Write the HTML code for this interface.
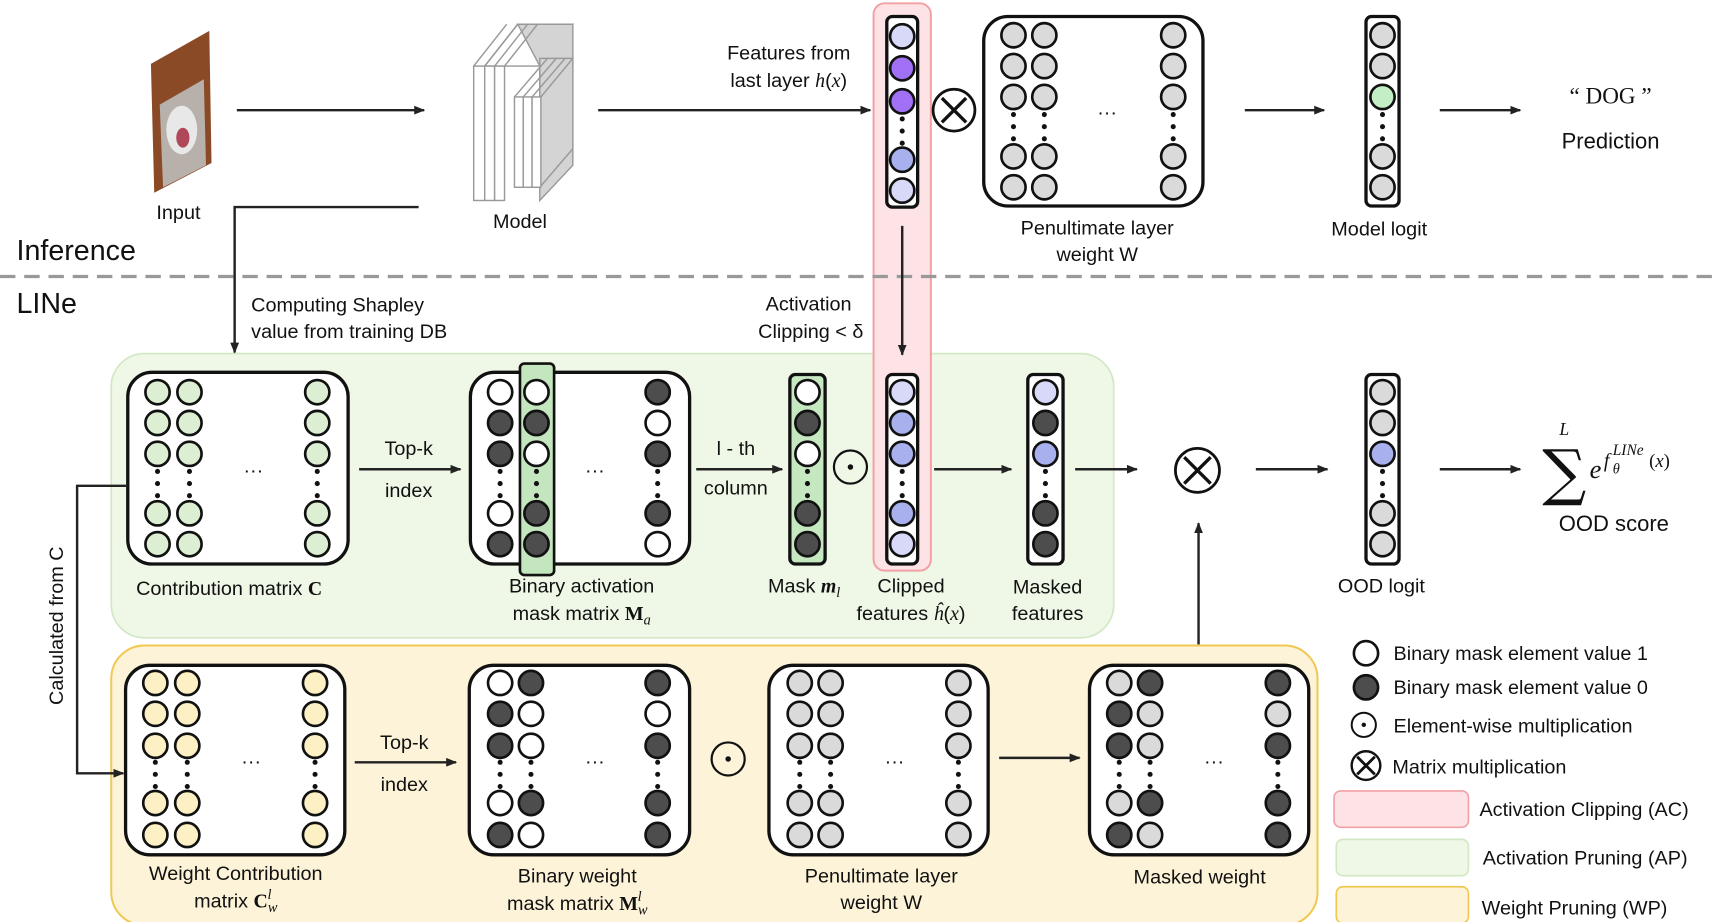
<!DOCTYPE html>
<html><head><meta charset="utf-8"><style>
html,body{margin:0;padding:0;background:#fff}
svg{display:block}
text{font-family:"Liberation Sans",sans-serif;font-size:18px;fill:#111;text-anchor:middle}
.c{stroke:#111;stroke-width:2.4}
.w{fill:#fff}.k{fill:#4d4d4d}.g{fill:#dadada}.lg{fill:#dcefd2}.y{fill:#fdf0c4}.lv{fill:#d8d8f8}.pb{fill:#a8b0ee}.pp{fill:#a070f5}.gr{fill:#c4eec4}
.d{fill:#111}
.box{fill:#fff;stroke:#111;stroke-width:3}
.ar{stroke:#222;stroke-width:2.2;fill:none}
</style></head><body>
<svg width="1713" height="922" viewBox="0 0 1555 837" preserveAspectRatio="none" xmlns="http://www.w3.org/2000/svg">
<defs>
<marker id="a" markerWidth="10" markerHeight="8" refX="9" refY="4" orient="auto" markerUnits="userSpaceOnUse"><path d="M0,0 L10,4 L0,8 z" fill="#222"/></marker>
</defs>

<!-- panels -->
<rect x="101" y="321" width="910" height="258" rx="30" fill="#eff7e6" stroke="#d2e8c4" stroke-width="1.5"/>
<rect x="101" y="586" width="1095" height="254" rx="30" fill="#fdf3d8" stroke="#f0c850" stroke-width="1.8"/>
<rect x="793" y="3" width="52" height="515" rx="10" fill="#fde3e5" stroke="#f2a0a6" stroke-width="1.8"/>

<!-- input image -->
<polygon points="137,58 190,28 192,148 140,175" fill="#8a4a25"/>
<polygon points="145,95 185,72 187,150 148,170" fill="#b8b0aa"/>
<ellipse cx="165" cy="118" rx="14" ry="22" fill="#e8e8e8"/>
<ellipse cx="166" cy="125" rx="6" ry="9" fill="#b0485a"/>
<text x="162" y="199">Input</text>

<line class="ar" x1="215" y1="100" x2="385" y2="100" marker-end="url(#a)"/>

<!-- model -->
<g stroke="#999" stroke-width="1.3" fill="#fff">
<polygon points="440,60 470,22 520,22 490,60" fill="#fff"/>
<polygon points="470,22 520,22 520,150 490,182 490,60" fill="#d4d4d4"/>
<rect x="430" y="60" width="10" height="122"/><rect x="440" y="60" width="9" height="122"/><rect x="449" y="60" width="9" height="122"/>
<line x1="430" y1="60" x2="460" y2="22"/><line x1="440" y1="60" x2="470" y2="22"/><line x1="449" y1="60" x2="479" y2="22"/><line x1="458" y1="60" x2="488" y2="22"/>
<polygon points="490,53 520,53 520,135 490,170" fill="#d4d4d4"/>
<rect x="467" y="88" width="8" height="82"/><rect x="475" y="88" width="8" height="82"/><rect x="483" y="88" width="8" height="82"/>
<line x1="467" y1="88" x2="497" y2="53"/><line x1="475" y1="88" x2="505" y2="53"/><line x1="483" y1="88" x2="513" y2="53"/><line x1="491" y1="88" x2="520" y2="53"/>
</g>
<text x="472" y="207">Model</text>

<path class="ar" d="M380,188 H213 V320" marker-end="url(#a)"/>
<line class="ar" x1="543" y1="100" x2="790" y2="100" marker-end="url(#a)"/>
<text x="716" y="54">Features from</text>
<text x="716" y="79">last layer <tspan font-family="Liberation Serif" font-style="italic">h</tspan>(<tspan font-family="Liberation Serif" font-style="italic">x</tspan>)</text>

<!-- top feature column -->
<rect class="box" x="805" y="15" width="28" height="173" rx="5"/>
<g class="c"><circle class="lv" cx="819" cy="33" r="11"/><circle class="pp" cx="819" cy="62" r="11"/><circle class="pp" cx="819" cy="92" r="11"/><circle class="pb" cx="819" cy="145" r="11"/><circle class="lv" cx="819" cy="173" r="11"/></g>
<g class="d"><circle cx="819" cy="108" r="2.3"/><circle cx="819" cy="119" r="2.3"/><circle cx="819" cy="130" r="2.3"/></g>

<!-- otimes top -->
<circle cx="866" cy="100" r="19" fill="#fff" stroke="#111" stroke-width="2.5"/>
<path d="M855,89 L877,111 M877,89 L855,111" stroke="#111" stroke-width="3"/>

<!-- top W -->
<rect class="box" x="893" y="15" width="199" height="172" rx="22"/>
<g class="c g">
<circle cx="920" cy="32" r="11"/><circle cx="920" cy="60" r="11"/><circle cx="920" cy="88" r="11"/><circle cx="920" cy="142" r="11"/><circle cx="920" cy="170" r="11"/>
<circle cx="948" cy="32" r="11"/><circle cx="948" cy="60" r="11"/><circle cx="948" cy="88" r="11"/><circle cx="948" cy="142" r="11"/><circle cx="948" cy="170" r="11"/>
<circle cx="1065" cy="32" r="11"/><circle cx="1065" cy="60" r="11"/><circle cx="1065" cy="88" r="11"/><circle cx="1065" cy="142" r="11"/><circle cx="1065" cy="170" r="11"/>
</g>
<g class="d"><circle cx="920" cy="104" r="2.3"/><circle cx="920" cy="115" r="2.3"/><circle cx="920" cy="126" r="2.3"/><circle cx="948" cy="104" r="2.3"/><circle cx="948" cy="115" r="2.3"/><circle cx="948" cy="126" r="2.3"/><circle cx="1065" cy="104" r="2.3"/><circle cx="1065" cy="115" r="2.3"/><circle cx="1065" cy="126" r="2.3"/></g>
<text x="1005" y="108">···</text>
<text x="996" y="213">Penultimate layer</text>
<text x="996" y="237">weight W</text>

<line class="ar" x1="1130" y1="100" x2="1202" y2="100" marker-end="url(#a)"/>
<rect class="box" x="1240" y="15" width="30" height="172" rx="5"/>
<g class="c"><circle class="g" cx="1255" cy="32" r="11"/><circle class="g" cx="1255" cy="60" r="11"/><circle class="gr" cx="1255" cy="88" r="11"/><circle class="g" cx="1255" cy="142" r="11"/><circle class="g" cx="1255" cy="170" r="11"/></g>
<g class="d"><circle cx="1255" cy="104" r="2.3"/><circle cx="1255" cy="115" r="2.3"/><circle cx="1255" cy="126" r="2.3"/></g>
<text x="1252" y="214">Model logit</text>
<line class="ar" x1="1307" y1="100" x2="1380" y2="100" marker-end="url(#a)"/>
<text x="1462" y="94" style="font-family:'Liberation Serif',serif;font-size:21px">“ DOG ”</text>
<text x="1462" y="135" style="font-size:20px">Prediction</text>

<text x="15" y="236" style="text-anchor:start;font-size:26px">Inference</text>
<line x1="0" y1="251" x2="1555" y2="251" stroke="#999" stroke-width="3" stroke-dasharray="14 8"/>
<text x="15" y="284" style="text-anchor:start;font-size:26px">LINe</text>
<text x="228" y="283" style="text-anchor:start">Computing Shapley</text>
<text x="228" y="307" style="text-anchor:start">value from training DB</text>
<text x="734" y="282">Activation</text>
<text x="736" y="307">Clipping &lt; δ</text>
<line class="ar" x1="819" y1="205" x2="819" y2="322" marker-end="url(#a)"/>

<!-- Contribution matrix -->
<rect class="box" x="116" y="338" width="200" height="174" rx="22"/>
<g class="c lg">
<circle cx="143" cy="356" r="11"/><circle cx="143" cy="384" r="11"/><circle cx="143" cy="412" r="11"/><circle cx="143" cy="466" r="11"/><circle cx="143" cy="494" r="11"/>
<circle cx="172" cy="356" r="11"/><circle cx="172" cy="384" r="11"/><circle cx="172" cy="412" r="11"/><circle cx="172" cy="466" r="11"/><circle cx="172" cy="494" r="11"/>
<circle cx="288" cy="356" r="11"/><circle cx="288" cy="384" r="11"/><circle cx="288" cy="412" r="11"/><circle cx="288" cy="466" r="11"/><circle cx="288" cy="494" r="11"/>
</g>
<g class="d"><circle cx="143" cy="428" r="2.3"/><circle cx="143" cy="439" r="2.3"/><circle cx="143" cy="450" r="2.3"/><circle cx="172" cy="428" r="2.3"/><circle cx="172" cy="439" r="2.3"/><circle cx="172" cy="450" r="2.3"/><circle cx="288" cy="428" r="2.3"/><circle cx="288" cy="439" r="2.3"/><circle cx="288" cy="450" r="2.3"/></g>
<text x="230" y="433">···</text>
<text x="208" y="540">Contribution matrix <tspan font-family="Liberation Serif" font-weight="bold">C</tspan></text>

<line class="ar" x1="326" y1="426" x2="418" y2="426" marker-end="url(#a)"/>
<text x="371" y="413">Top-k</text>
<text x="371" y="451">index</text>

<!-- Binary activation mask -->
<rect class="box" x="427" y="338" width="199" height="174" rx="22"/>
<rect x="472" y="330" width="31" height="192" rx="4" fill="#c4e6be"/>
<g class="c">
<circle class="w" cx="454" cy="356" r="11"/><circle class="k" cx="454" cy="384" r="11"/><circle class="k" cx="454" cy="412" r="11"/><circle class="w" cx="454" cy="466" r="11"/><circle class="k" cx="454" cy="494" r="11"/>
<circle class="w" cx="487" cy="356" r="11"/><circle class="k" cx="487" cy="384" r="11"/><circle class="w" cx="487" cy="412" r="11"/><circle class="k" cx="487" cy="466" r="11"/><circle class="k" cx="487" cy="494" r="11"/>
<circle class="k" cx="597" cy="356" r="11"/><circle class="w" cx="597" cy="384" r="11"/><circle class="k" cx="597" cy="412" r="11"/><circle class="k" cx="597" cy="466" r="11"/><circle class="w" cx="597" cy="494" r="11"/>
</g>
<rect x="472" y="330" width="31" height="192" rx="4" fill="none" stroke="#111" stroke-width="2.4"/>
<g class="d"><circle cx="454" cy="428" r="2.3"/><circle cx="454" cy="439" r="2.3"/><circle cx="454" cy="450" r="2.3"/><circle cx="487" cy="428" r="2.3"/><circle cx="487" cy="439" r="2.3"/><circle cx="487" cy="450" r="2.3"/><circle cx="597" cy="428" r="2.3"/><circle cx="597" cy="439" r="2.3"/><circle cx="597" cy="450" r="2.3"/></g>
<text x="540" y="433">···</text>
<text x="528" y="538">Binary activation</text>
<text x="528" y="563">mask matrix <tspan font-family="Liberation Serif" font-weight="bold">M</tspan><tspan font-family="Liberation Serif" font-style="italic" font-size="13" dy="4">a</tspan></text>

<line class="ar" x1="632" y1="426" x2="710" y2="426" marker-end="url(#a)"/>
<text x="668" y="413">l - th</text>
<text x="668" y="449">column</text>

<!-- Mask column -->
<rect x="717" y="340" width="32" height="172" rx="5" fill="#c6e8c0" stroke="#111" stroke-width="3"/>
<g class="c"><circle class="w" cx="733" cy="356" r="11"/><circle class="k" cx="733" cy="384" r="11"/><circle class="w" cx="733" cy="412" r="11"/><circle class="k" cx="733" cy="466" r="11"/><circle class="k" cx="733" cy="494" r="11"/></g>
<g class="d"><circle cx="733" cy="428" r="2.3"/><circle cx="733" cy="439" r="2.3"/><circle cx="733" cy="450" r="2.3"/></g>
<circle cx="772" cy="424" r="15" fill="none" stroke="#111" stroke-width="2"/><circle cx="772" cy="424" r="2.5" fill="#111"/>
<text x="730" y="538">Mask <tspan font-family="Liberation Serif" font-weight="bold" font-style="italic">m</tspan><tspan font-family="Liberation Serif" font-style="italic" font-size="13" dy="4">l</tspan></text>

<!-- Clipped -->
<rect class="box" x="805" y="340" width="28" height="172" rx="5"/>
<g class="c"><circle class="lv" cx="819" cy="356" r="11"/><circle class="pb" cx="819" cy="384" r="11"/><circle class="pb" cx="819" cy="412" r="11"/><circle class="pb" cx="819" cy="466" r="11"/><circle class="lv" cx="819" cy="494" r="11"/></g>
<g class="d"><circle cx="819" cy="428" r="2.3"/><circle cx="819" cy="439" r="2.3"/><circle cx="819" cy="450" r="2.3"/></g>
<text x="827" y="538">Clipped</text>
<text x="827" y="563">features <tspan font-family="Liberation Serif" font-style="italic">ĥ</tspan>(<tspan font-family="Liberation Serif" font-style="italic">x</tspan>)</text>

<line class="ar" x1="848" y1="426" x2="918" y2="426" marker-end="url(#a)"/>
<rect class="box" x="933" y="340" width="32" height="172" rx="5"/>
<g class="c"><circle class="lv" cx="949" cy="356" r="11"/><circle class="k" cx="949" cy="384" r="11"/><circle class="pb" cx="949" cy="412" r="11"/><circle class="k" cx="949" cy="466" r="11"/><circle class="k" cx="949" cy="494" r="11"/></g>
<g class="d"><circle cx="949" cy="428" r="2.3"/><circle cx="949" cy="439" r="2.3"/><circle cx="949" cy="450" r="2.3"/></g>
<text x="951" y="539">Masked</text>
<text x="951" y="563">features</text>

<line class="ar" x1="976" y1="426" x2="1032" y2="426" marker-end="url(#a)"/>
<circle cx="1087" cy="427" r="20" fill="#fff" stroke="#111" stroke-width="2.5"/>
<path d="M1075,415 L1099,439 M1099,415 L1075,439" stroke="#111" stroke-width="3"/>
<line class="ar" x1="1088" y1="585" x2="1088" y2="475" marker-end="url(#a)"/>
<line class="ar" x1="1140" y1="426" x2="1205" y2="426" marker-end="url(#a)"/>

<rect class="box" x="1240" y="340" width="30" height="172" rx="5"/>
<g class="c"><circle class="g" cx="1255" cy="356" r="11"/><circle class="g" cx="1255" cy="384" r="11"/><circle class="pb" cx="1255" cy="412" r="11"/><circle class="g" cx="1255" cy="466" r="11"/><circle class="g" cx="1255" cy="494" r="11"/></g>
<g class="d"><circle cx="1255" cy="428" r="2.3"/><circle cx="1255" cy="439" r="2.3"/><circle cx="1255" cy="450" r="2.3"/></g>
<text x="1254" y="538">OOD logit</text>
<line class="ar" x1="1307" y1="426" x2="1380" y2="426" marker-end="url(#a)"/>

<text x="1420" y="448" style="font-family:'DejaVu Serif',serif;font-size:56px">∑</text>
<text x="1420" y="395" style="font-family:'Liberation Serif',serif;font-style:italic;font-size:16px">L</text>
<text x="1443" y="434" style="text-anchor:start;font-family:'Liberation Serif',serif;font-style:italic;font-size:24px">e</text>
<text x="1456" y="424" style="text-anchor:start;font-family:'Liberation Serif',serif;font-style:italic;font-size:18px">f</text>
<text x="1464" y="430" style="text-anchor:start;font-family:'Liberation Serif',serif;font-style:italic;font-size:13px">θ</text>
<text x="1464" y="413" style="text-anchor:start;font-family:'Liberation Serif',serif;font-style:italic;font-size:14px">LINe</text>
<text x="1497" y="424" style="text-anchor:start;font-family:'Liberation Serif',serif;font-size:17px">(<tspan font-style="italic">x</tspan>)</text>
<text x="1465" y="482" style="font-size:20px">OOD score</text>

<!-- Calculated from C -->
<text x="0" y="0" transform="translate(57,568) rotate(-90)">Calculated from C</text>
<path class="ar" d="M116,441 H70 V702 H112" marker-end="url(#a)"/>

<!-- Weight contribution -->
<rect class="box" x="114" y="604" width="199" height="172" rx="22"/>
<g class="c y">
<circle cx="141" cy="620" r="11"/><circle cx="141" cy="648" r="11"/><circle cx="141" cy="677" r="11"/><circle cx="141" cy="729" r="11"/><circle cx="141" cy="758" r="11"/>
<circle cx="170" cy="620" r="11"/><circle cx="170" cy="648" r="11"/><circle cx="170" cy="677" r="11"/><circle cx="170" cy="729" r="11"/><circle cx="170" cy="758" r="11"/>
<circle cx="286" cy="620" r="11"/><circle cx="286" cy="648" r="11"/><circle cx="286" cy="677" r="11"/><circle cx="286" cy="729" r="11"/><circle cx="286" cy="758" r="11"/>
</g>
<g class="d"><circle cx="141" cy="692" r="2.3"/><circle cx="141" cy="703" r="2.3"/><circle cx="141" cy="714" r="2.3"/><circle cx="170" cy="692" r="2.3"/><circle cx="170" cy="703" r="2.3"/><circle cx="170" cy="714" r="2.3"/><circle cx="286" cy="692" r="2.3"/><circle cx="286" cy="703" r="2.3"/><circle cx="286" cy="714" r="2.3"/></g>
<text x="228" y="697">···</text>
<text x="214" y="799">Weight Contribution</text>
<text x="214" y="824">matrix <tspan font-family="Liberation Serif" font-weight="bold">C</tspan><tspan font-family="Liberation Serif" font-style="italic" font-size="13" dy="4">w</tspan><tspan font-family="Liberation Serif" font-style="italic" font-size="13" dx="-9" dy="-12">l</tspan></text>

<line class="ar" x1="322" y1="692" x2="414" y2="692" marker-end="url(#a)"/>
<text x="367" y="680">Top-k</text>
<text x="367" y="718">index</text>

<!-- Binary weight mask -->
<rect class="box" x="426" y="604" width="200" height="172" rx="22"/>
<g class="c">
<circle class="w" cx="454" cy="620" r="11"/><circle class="k" cx="454" cy="648" r="11"/><circle class="k" cx="454" cy="677" r="11"/><circle class="w" cx="454" cy="729" r="11"/><circle class="k" cx="454" cy="758" r="11"/>
<circle class="k" cx="482" cy="620" r="11"/><circle class="w" cx="482" cy="648" r="11"/><circle class="w" cx="482" cy="677" r="11"/><circle class="k" cx="482" cy="729" r="11"/><circle class="w" cx="482" cy="758" r="11"/>
<circle class="k" cx="597" cy="620" r="11"/><circle class="w" cx="597" cy="648" r="11"/><circle class="k" cx="597" cy="677" r="11"/><circle class="k" cx="597" cy="729" r="11"/><circle class="k" cx="597" cy="758" r="11"/>
</g>
<g class="d"><circle cx="454" cy="692" r="2.3"/><circle cx="454" cy="703" r="2.3"/><circle cx="454" cy="714" r="2.3"/><circle cx="482" cy="692" r="2.3"/><circle cx="482" cy="703" r="2.3"/><circle cx="482" cy="714" r="2.3"/><circle cx="597" cy="692" r="2.3"/><circle cx="597" cy="703" r="2.3"/><circle cx="597" cy="714" r="2.3"/></g>
<text x="540" y="697">···</text>
<text x="524" y="801">Binary weight</text>
<text x="524" y="826">mask matrix <tspan font-family="Liberation Serif" font-weight="bold">M</tspan><tspan font-family="Liberation Serif" font-style="italic" font-size="13" dy="4">w</tspan><tspan font-family="Liberation Serif" font-style="italic" font-size="13" dx="-9" dy="-12">l</tspan></text>

<circle cx="661" cy="689" r="15" fill="none" stroke="#111" stroke-width="2"/><circle cx="661" cy="689" r="2.5" fill="#111"/>

<!-- Penultimate W bottom -->
<rect class="box" x="698" y="604" width="199" height="172" rx="22"/>
<g class="c g">
<circle cx="726" cy="620" r="11"/><circle cx="726" cy="648" r="11"/><circle cx="726" cy="677" r="11"/><circle cx="726" cy="729" r="11"/><circle cx="726" cy="758" r="11"/>
<circle cx="754" cy="620" r="11"/><circle cx="754" cy="648" r="11"/><circle cx="754" cy="677" r="11"/><circle cx="754" cy="729" r="11"/><circle cx="754" cy="758" r="11"/>
<circle cx="870" cy="620" r="11"/><circle cx="870" cy="648" r="11"/><circle cx="870" cy="677" r="11"/><circle cx="870" cy="729" r="11"/><circle cx="870" cy="758" r="11"/>
</g>
<g class="d"><circle cx="726" cy="692" r="2.3"/><circle cx="726" cy="703" r="2.3"/><circle cx="726" cy="714" r="2.3"/><circle cx="754" cy="692" r="2.3"/><circle cx="754" cy="703" r="2.3"/><circle cx="754" cy="714" r="2.3"/><circle cx="870" cy="692" r="2.3"/><circle cx="870" cy="703" r="2.3"/><circle cx="870" cy="714" r="2.3"/></g>
<text x="812" y="697">···</text>
<text x="800" y="801">Penultimate layer</text>
<text x="800" y="825">weight W</text>

<line class="ar" x1="907" y1="688" x2="980" y2="688" marker-end="url(#a)"/>

<!-- Masked weight -->
<rect class="box" x="989" y="604" width="199" height="172" rx="22"/>
<g class="c">
<circle class="g" cx="1016" cy="620" r="11"/><circle class="k" cx="1016" cy="648" r="11"/><circle class="k" cx="1016" cy="677" r="11"/><circle class="g" cx="1016" cy="729" r="11"/><circle class="k" cx="1016" cy="758" r="11"/>
<circle class="k" cx="1044" cy="620" r="11"/><circle class="g" cx="1044" cy="648" r="11"/><circle class="g" cx="1044" cy="677" r="11"/><circle class="k" cx="1044" cy="729" r="11"/><circle class="g" cx="1044" cy="758" r="11"/>
<circle class="k" cx="1160" cy="620" r="11"/><circle class="g" cx="1160" cy="648" r="11"/><circle class="k" cx="1160" cy="677" r="11"/><circle class="k" cx="1160" cy="729" r="11"/><circle class="k" cx="1160" cy="758" r="11"/>
</g>
<g class="d"><circle cx="1016" cy="692" r="2.3"/><circle cx="1016" cy="703" r="2.3"/><circle cx="1016" cy="714" r="2.3"/><circle cx="1044" cy="692" r="2.3"/><circle cx="1044" cy="703" r="2.3"/><circle cx="1044" cy="714" r="2.3"/><circle cx="1160" cy="692" r="2.3"/><circle cx="1160" cy="703" r="2.3"/><circle cx="1160" cy="714" r="2.3"/></g>
<text x="1102" y="697">···</text>
<text x="1089" y="802">Masked weight</text>

<!-- legend -->
<circle class="c w" cx="1240" cy="593" r="11"/>
<circle class="c k" cx="1240" cy="624" r="11"/>
<circle cx="1238" cy="658" r="11" fill="none" stroke="#111" stroke-width="1.8"/><circle cx="1238" cy="658" r="2" fill="#111"/>
<circle cx="1240" cy="695" r="13" fill="#fff" stroke="#111" stroke-width="2.2"/>
<path d="M1232,687 L1248,703 M1248,687 L1232,703" stroke="#111" stroke-width="2.6"/>
<text x="1265" y="599" style="text-anchor:start">Binary mask element value 1</text>
<text x="1265" y="630" style="text-anchor:start">Binary mask element value 0</text>
<text x="1265" y="665" style="text-anchor:start">Element-wise multiplication</text>
<text x="1264" y="702" style="text-anchor:start">Matrix multiplication</text>
<rect x="1211" y="718" width="122" height="33" rx="6" fill="#fde3e5" stroke="#f2a0a6" stroke-width="1.5"/>
<rect x="1213" y="762" width="120" height="33" rx="6" fill="#eff7e6" stroke="#d2e8c4" stroke-width="1.5"/>
<rect x="1213" y="805" width="120" height="33" rx="6" fill="#fdf3d8" stroke="#f0c850" stroke-width="1.5"/>
<text x="1343" y="741" style="text-anchor:start">Activation Clipping (AC)</text>
<text x="1346" y="785" style="text-anchor:start">Activation Pruning (AP)</text>
<text x="1345" y="830" style="text-anchor:start">Weight Pruning (WP)</text>
</svg>
</body></html>
